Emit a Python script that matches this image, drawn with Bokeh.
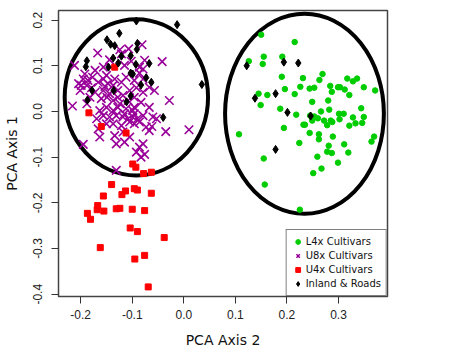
from bokeh.plotting import figure
from bokeh.models import Range1d, FixedTicker, Legend, LegendItem
from bokeh.embed import file_html
from bokeh.resources import INLINE

# ---- data ----
l4x_x = [0.150, 0.215, 0.126, 0.155, 0.153, 0.191, 0.190, 0.231, 0.263, 0.269, 0.317, 0.328, 0.336, 0.349, 0.371,
         0.145, 0.162, 0.149, 0.196, 0.226, 0.215, 0.244, 0.253, 0.249, 0.284, 0.299, 0.303, 0.312, 0.321, 0.287,
         0.280, 0.187, 0.218, 0.245, 0.253, 0.266, 0.282, 0.301, 0.310, 0.344, 0.328, 0.349, 0.333, 0.346, 0.321,
         0.302, 0.272, 0.285, 0.288, 0.278, 0.260, 0.232, 0.235, 0.249, 0.107, 0.194, 0.244, 0.262, 0.262, 0.289,
         0.281, 0.278, 0.287, 0.311, 0.319, 0.259, 0.299, 0.224, 0.155, 0.267, 0.251, 0.364, 0.369, 0.157, 0.225]
l4x_y = [0.168, 0.152, 0.110, 0.120, 0.104, 0.120, 0.076, 0.073, 0.069, 0.082, 0.072, 0.066, 0.072, 0.053, 0.046,
         0.039, 0.036, 0.014, 0.049, 0.054, 0.038, 0.050, 0.052, 0.021, 0.056, 0.053, 0.053, 0.048, 0.036, 0.043,
         0.024, 0.006, -0.007, -0.009, -0.011, 0.000, 0.004, -0.005, -0.005, 0.007, -0.013, -0.012, -0.026, -0.025, -0.031,
         -0.017, -0.020, -0.020, -0.023, -0.030, -0.015, -0.029, -0.029, -0.020, -0.050, -0.036, -0.047, -0.050, -0.061, -0.055,
         -0.075, -0.088, -0.091, -0.072, -0.090, -0.099, -0.112, -0.069, -0.103, -0.125, -0.135, -0.066, -0.055, -0.160, -0.215]

u8x_x = [-0.081, -0.124, -0.121, -0.167, -0.042, -0.212, -0.144, -0.102, -0.115, -0.079, -0.086, -0.156, -0.172,
         -0.195, -0.186, -0.177, -0.188, -0.166, -0.156, -0.147, -0.134, -0.121, -0.112, -0.096, -0.079, -0.067,
         -0.057, -0.092, -0.079, -0.201, -0.172, -0.156, -0.144, -0.128, -0.118, -0.096, -0.028, -0.216, -0.188,
         -0.160, -0.137, -0.124, -0.083, -0.067, -0.163, -0.150, -0.137, -0.128, -0.112, -0.096, -0.156, -0.144,
         -0.131, -0.118, -0.108, -0.099, -0.090, -0.079, -0.060, -0.053, -0.105, -0.096, -0.086, -0.073, -0.062,
         -0.035, 0.010, -0.163, -0.134, -0.118, -0.105, -0.131, -0.115, -0.195, -0.079, -0.086, -0.092, -0.076,
         -0.083, -0.131, -0.150, -0.169, -0.137, -0.121, -0.182, -0.204, -0.199, -0.179, -0.153, -0.137, -0.128,
         -0.108, -0.105, -0.076, -0.107, -0.086, -0.150, -0.192, -0.099, -0.115, -0.096, -0.149, -0.067, -0.166]
u8x_y = [0.146, 0.135, 0.126, 0.128, 0.109, 0.101, 0.113, 0.110, 0.101, 0.093, 0.084, 0.097, 0.090,
         0.071, 0.068, 0.075, 0.057, 0.064, 0.071, 0.061, 0.071, 0.064, 0.075, 0.068, 0.071, 0.053,
         0.046, 0.052, 0.042, 0.046, 0.042, 0.046, 0.039, 0.046, 0.035, 0.031, 0.024, 0.012, 0.017,
         0.028, 0.024, 0.017, 0.020, 0.009, 0.002, 0.009, 0.002, 0.009, 0.006, 0.009, -0.009, -0.012,
         -0.009, -0.012, -0.016, -0.012, -0.016, -0.009, -0.012, -0.016, -0.023, -0.027, -0.023, -0.034, -0.033,
         -0.044, -0.040, -0.056, -0.053, -0.045, -0.056, -0.071, -0.067, -0.072, -0.071, -0.078, -0.089, -0.094,
         -0.100, -0.129, -0.027, -0.016, -0.027, -0.031, 0.031, 0.061, 0.057, 0.052, 0.055, 0.057, 0.031,
         0.024, 0.046, 0.112, 0.137, 0.097, 0.079, 0.082, 0.002, -0.005, -0.005, 0.031, -0.042, -0.038]

u4x_x = [-0.140, -0.156, -0.120, -0.113, -0.096, -0.090, -0.063, -0.187, -0.181, -0.167, -0.168, -0.155, -0.131,
         -0.124, -0.100, -0.076, -0.104, -0.090, -0.038, -0.162, -0.095, -0.076, -0.069, -0.099, -0.093, -0.078,
         -0.063, -0.134, -0.184, -0.160, -0.112]
u4x_y = [-0.160, -0.185, -0.182, -0.174, -0.169, -0.172, -0.179, -0.223, -0.236, -0.206, -0.215, -0.218, -0.213,
         -0.212, -0.214, -0.217, -0.255, -0.263, -0.276, -0.298, -0.323, -0.315, -0.384, -0.115, -0.122, -0.136,
         -0.133, 0.097, -0.003, -0.033, -0.047]

inland_x = [-0.092, -0.013, -0.125, -0.149, -0.142, -0.134, -0.090, -0.091, -0.121, -0.103, -0.137, -0.188, -0.190,
            -0.127, -0.093, -0.067, -0.146, -0.103, -0.099, -0.073, -0.063, -0.083, 0.035, -0.178, -0.136, -0.103,
            -0.187, -0.111, -0.040,
            0.122, 0.194, 0.222, 0.138, 0.178, 0.201, 0.246, 0.178]
inland_y = [0.198, 0.190, 0.171, 0.157, 0.147, 0.144, 0.149, 0.136, 0.121, 0.122, 0.117, 0.111, 0.098,
            0.106, 0.103, 0.105, 0.097, 0.084, 0.082, 0.074, 0.064, 0.058, 0.059, 0.046, 0.046, 0.034,
            0.025, 0.021, -0.013,
            0.100, 0.108, 0.106, 0.029, 0.039, -0.002, -0.010, -0.083]

ellipse_x = [-0.092, 0.234]
ellipse_y = [0.031, -0.005]
ellipse_w = [0.278, 0.308]
ellipse_h = [0.342, 0.438]

x_ticks = [-0.2, -0.1, 0.0, 0.1, 0.2, 0.3]
x_tick_labels = ["-0.2", "-0.1", "0.0", "0.1", "0.2", "0.3"]
y_ticks = [-0.4, -0.3, -0.2, -0.1, 0.0, 0.1, 0.2]
y_tick_labels = ["-0.4", "-0.3", "-0.2", "-0.1", "0.0", "0.1", "0.2"]

series_labels = ["L4x Cultivars", "U8x Cultivars", "U4x Cultivars", "Inland & Roads"]

# ---- figure ----
p = figure(width=474, height=353, output_backend="svg", toolbar_location=None,
           x_range=Range1d(-0.243, 0.395), y_range=Range1d(-0.405, 0.221),
           min_border_left=55, min_border_right=87, min_border_top=10, min_border_bottom=57)
p.background_fill_color = "white"
p.border_fill_color = "white"
p.outline_line_color = "#444444"
p.outline_line_width = 1.5
p.xgrid.visible = False
p.ygrid.visible = False

p.ellipse(x=ellipse_x, y=ellipse_y, width=ellipse_w, height=ellipse_h,
          fill_color=None, line_color="black", line_width=4)

r_green = p.scatter(l4x_x, l4x_y, marker="circle", size=5.5, fill_color="#00CD00", line_color="#00CD00")
r_purple = p.scatter(u8x_x, u8x_y, marker="x", size=12, line_color="#990099", line_width=1.6)
r_red = p.scatter(u4x_x, u4x_y, marker="square", size=6, fill_color="#FF0000", line_color="#FF0000")
r_black = p.scatter(inland_x, inland_y, marker="diamond", size=8, fill_color="black", line_color="black")

for ax, ticks, labels in ((p.xaxis[0], x_ticks, x_tick_labels), (p.yaxis[0], y_ticks, y_tick_labels)):
    ax.ticker = FixedTicker(ticks=ticks, minor_ticks=[])
    ax.major_label_overrides = {t: l for t, l in zip(ticks, labels)}
    ax.major_tick_out = 7
    ax.major_tick_in = 0
    ax.minor_tick_out = 0
    ax.minor_tick_in = 0
    ax.major_tick_line_color = "#333333"
    ax.axis_line_color = "#444444"
    ax.major_label_text_font = "Liberation Sans"
    ax.major_label_text_font_size = "12px"
    ax.major_label_text_color = "#222222"
    ax.axis_label_text_font = "DejaVu Sans"
    ax.axis_label_text_font_size = "14px"
    ax.axis_label_text_font_style = "normal"
    ax.axis_label_text_color = "#111111"

p.xaxis.axis_label = "PCA Axis 2"
p.yaxis.axis_label = "PCA Axis 1"
p.yaxis.major_label_orientation = "vertical"
p.xaxis.major_label_standoff = 6
p.yaxis.major_label_standoff = 9
p.xaxis.axis_label_standoff = 10
p.yaxis.axis_label_standoff = 11

legend = Legend(items=[
    LegendItem(label=series_labels[0], renderers=[r_green]),
    LegendItem(label=series_labels[1], renderers=[r_purple]),
    LegendItem(label=series_labels[2], renderers=[r_red]),
    LegendItem(label=series_labels[3], renderers=[r_black]),
], location="bottom_right")
legend.margin = 0
legend.padding = 5
legend.spacing = 1
legend.label_height = 13
legend.glyph_height = 13
legend.glyph_width = 12
legend.label_standoff = 2
legend.label_text_font = "DejaVu Sans"
legend.label_text_font_size = "10px"
legend.label_text_color = "#111111"
legend.border_line_color = "black"
legend.border_line_width = 1
legend.background_fill_color = "white"
legend.background_fill_alpha = 1
p.add_layout(legend)

open("out.html", "w").write(file_html(p, INLINE))
